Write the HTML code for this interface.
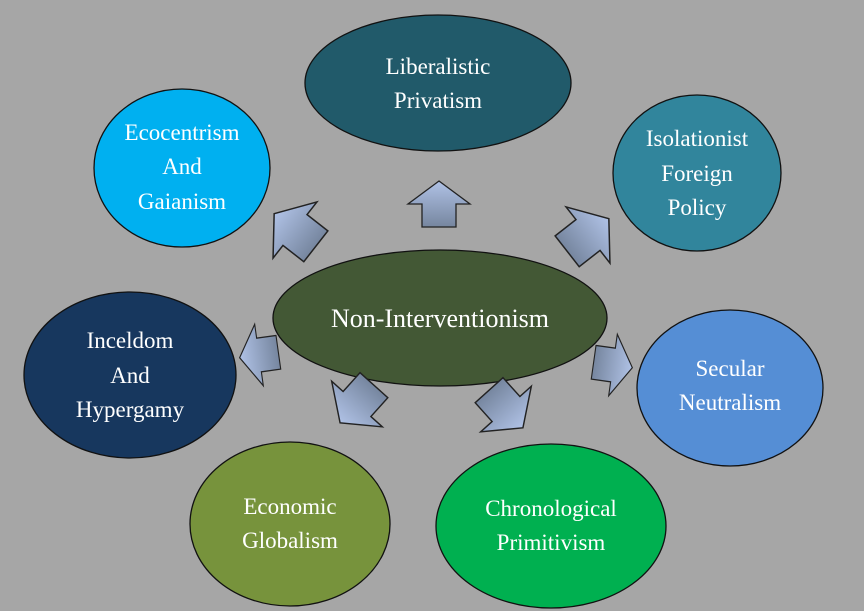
<!DOCTYPE html>
<html><head><meta charset="utf-8"><style>
html,body{margin:0;padding:0;background:#a6a6a6;}
svg{display:block}
text{font-family:"Liberation Serif",serif;fill:#fff;text-anchor:middle}
</style></head><body>
<svg width="864" height="611" viewBox="0 0 864 611" xmlns="http://www.w3.org/2000/svg">
<defs>
<linearGradient id="g" x1="0" y1="0" x2="0" y2="1"><stop offset="0" stop-color="#b0c2e6"/><stop offset="1" stop-color="#76869f"/></linearGradient>
<polygon id="ar" points="0,-23 31,0 17,0 17,23 -17,23 -17,0 -31,0" fill="url(#g)" stroke="#222" stroke-width="1.3"/>
</defs>
<rect width="864" height="611" fill="#a6a6a6"/>
<g stroke="#111" stroke-width="1.3">
<ellipse cx="438" cy="83" rx="133" ry="68" fill="#215a6a"/>
<ellipse cx="182" cy="168" rx="88" ry="79" fill="#00b0f0"/>
<ellipse cx="697" cy="173" rx="84" ry="78" fill="#31859c"/>
<ellipse cx="130" cy="375" rx="106" ry="83" fill="#17375e"/>
<ellipse cx="730" cy="388" rx="93" ry="78" fill="#558ed5"/>
<ellipse cx="290" cy="524" rx="100" ry="82" fill="#77933c"/>
<ellipse cx="551" cy="526" rx="115" ry="82" fill="#00b050"/>
<ellipse cx="440" cy="318" rx="167" ry="68" fill="#435835"/>
</g>
<use href="#ar" transform="translate(439,204)"/>
<use href="#ar" transform="translate(295,230) rotate(-52) scale(1.15)"/>
<use href="#ar" transform="translate(588,235) rotate(52) scale(1.15)"/>
<use href="#ar" transform="translate(259,355) rotate(-98) scale(1,0.85)"/>
<use href="#ar" transform="translate(613,365) rotate(98) scale(1,0.85)"/>
<use href="#ar" transform="translate(357,404) rotate(-138) scale(1.1)"/>
<use href="#ar" transform="translate(506,409) rotate(138) scale(1.1)"/>
<g font-size="23">
<text x="438" y="74">Liberalistic</text><text x="438" y="108">Privatism</text>
<text x="182" y="140">Ecocentrism</text><text x="182" y="174">And</text><text x="182" y="209">Gaianism</text>
<text x="697" y="146">Isolationist</text><text x="697" y="181">Foreign</text><text x="697" y="215">Policy</text>
<text x="130" y="348">Inceldom</text><text x="130" y="383">And</text><text x="130" y="417">Hypergamy</text>
<text x="730" y="376">Secular</text><text x="730" y="410">Neutralism</text>
<text x="290" y="514">Economic</text><text x="290" y="548">Globalism</text>
<text x="551" y="516">Chronological</text><text x="551" y="550">Primitivism</text>
</g>
<text x="440" y="327" font-size="26">Non-Interventionism</text>
</svg>
</body></html>
